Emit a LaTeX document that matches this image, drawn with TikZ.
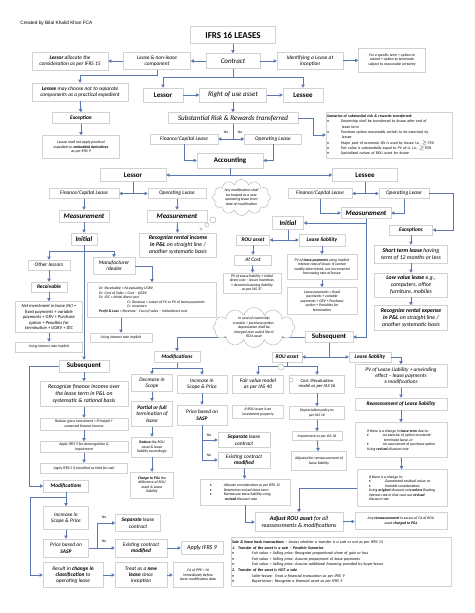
\documentclass[tikz,border=0pt]{standalone}
\usepackage{fontspec}
\setmainfont{Carlito}
\newfontfamily\creditfont{Liberation Sans}
\usetikzlibrary{arrows.meta,shapes.symbols}
\definecolor{lnblue}{HTML}{5B79AE}
\newcommand{\fsA}{\fontsize{7}{8.2}\selectfont}
\newcommand{\fsB}{\fontsize{5.4}{6.3}\selectfont}
\newcommand{\fsC}{\fontsize{4.6}{5.4}\selectfont}
\newcommand{\fsD}{\fontsize{3.8}{4.5}\selectfont}
\tikzset{every picture/.style={line width=0.75pt},
  bx/.style={draw=gray!35, line width=0.4pt, fill=white, inner sep=1pt, align=center, font=\itshape\fsB},
  bigtxt/.style={font=\itshape\fontsize{5.8}{6.8}\selectfont},
  hd/.style={font=\upshape\bfseries\fsA},
  hdi/.style={font=\itshape\bfseries\fsA},
  sm/.style={font=\itshape\fsD},
  lk/.style={draw=lnblue, line width=0.9pt, -{Triangle[length=3.2pt,width=3.4pt]}},
  ln/.style={draw=lnblue, line width=0.9pt},
  lbl/.style={font=\itshape\fsD, inner sep=0.5pt},
  cld/.style={cloud, cloud puffs=12, cloud ignores aspect, draw=gray!55, line width=0.5pt, fill=white, inner sep=0pt},
  bub/.style={draw=gray!55, line width=0.5pt, fill=white}
}

\begin{document}
\begin{tikzpicture}[x=1pt,y=1pt,yscale=-1,xscale=1]
\fill[white] (0,0) rectangle (474,613);
\path[use as bounding box] (0,0) rectangle (474,613);

% Heading
\node[anchor=west, inner sep=0pt, font=\creditfont\fontsize{4.8}{5.5}\selectfont] (credit) at (20,23) {Created by Bilal Khalid Khan FCA};
\node[bx, font=\upshape\bfseries\fontsize{9}{10}\selectfont, minimum width=85pt, minimum height=17pt] (title) at (233,35) {IFRS 16 LEASES};

% Contract row
\node[bx, font=\itshape\fsA, minimum width=54pt, minimum height=15pt] (contract) at (233,61) {Contract};
\node[bx, minimum width=67pt, minimum height=17pt] (lnl) at (157,61) {Lease \& non-lease\\component};
\node[bx, minimum width=76pt, minimum height=18pt] (lalloc) at (70,61) {\textbf{Lessor} allocate the\\consideration as per IFRS 15};
\node[bx, minimum width=66pt, minimum height=17pt] (ident) at (310,61) {Identifying a Lease at\\inception};
\node[bx, sm, minimum width=67pt, minimum height=24pt] (term) at (392,60) {For a specific term + option to\\extend + option to terminate\\subject to reasonable certainty};
\node[bx, minimum width=96pt, minimum height=18pt] (lchoose) at (80,92) {\textbf{Lessee} may choose not to separate\\components as a practical expedient};
\node[bx, minimum width=57pt, minimum height=11pt] (exc) at (81,118) {\textbf{Exception}};
\node[bx, sm, minimum width=77pt, minimum height=23pt] (embed) at (81,147) {Lessee shall not apply practical\\expedient to \textbf{embedded derivatives}\\as per IFRS 9};

% Lessor / ROU / Lessee row
\node[bx, hd, minimum width=40pt, minimum height=14pt] (lessorA) at (163,95) {Lessor};
\node[bx, font=\itshape\fsA, minimum width=67pt, minimum height=14pt] (rou) at (233,95) {Right of use asset};
\node[bx, hd, minimum width=40pt, minimum height=14pt] (lesseeA) at (303,95) {Lessee};
\node[bx, font=\itshape\fsA, minimum width=130pt, minimum height=11pt] (risk) at (233,118) {Substantial Risk \& Rewards transferred};
\node[bx, minimum width=68pt, minimum height=10pt] (finA) at (184,139) {Finance/Capital Lease};
\node[bx, minimum width=57pt, minimum height=10pt] (opA) at (273,139) {Operating Lease};
\node[lbl] (yesA) at (226,132) {Yes};
\node[lbl] (noA) at (240,132) {No};
\node[bx, font=\itshape\fontsize{3.9}{5.3}\selectfont, align=left, text width=124pt, minimum height=46pt] (scen) at (389,135) {\textbf{Scenarios of substantial risk \& rewards transferred:}\\
\textbullet\hspace{12pt}Ownership shall be transferred to lessee after end of\\
\hspace{15pt}lease term\\
\textbullet\hspace{12pt}Purchase option reasonably certain to be exercised by\\
\hspace{15pt}lessee\\
\textbullet\hspace{12pt}Major part of economic life is used by lessee i.e., $\geq$75\%\\
\textbullet\hspace{12pt}Fair value is substantially equal to PV of LL i.e., $\geq$90\%\\
\textbullet\hspace{12pt}Specialized nature of ROU asset for lessee};

% Accounting
\node[bx, hd, minimum width=66pt, minimum height=15pt] (acc) at (230,160.5) {Accounting};
\node[bx, hd, minimum width=66pt, minimum height=13pt] (lessorB) at (133,175) {Lessor};
\node[bx, hd, minimum width=65pt, minimum height=13pt] (lesseeB) at (365,175) {Lessee};
\node[bx, minimum width=70pt, minimum height=10pt] (finL) at (84,193.5) {Finance/Capital Lease};
\node[bx, minimum width=58pt, minimum height=10pt] (opL) at (177,193.5) {Operating Lease};
\node[bx, minimum width=64pt, minimum height=10pt] (finE) at (320,193.5) {Finance/Capital Lease};
\node[bx, minimum width=50pt, minimum height=10pt] (opE) at (404,193.5) {Operating Lease};

% Lessor, finance lease, initial
\node[bx, hdi, minimum width=50pt, minimum height=12pt] (measL) at (84,216) {Measurement};
\node[bx, hdi, minimum width=26pt, minimum height=12pt] (initL) at (84,239) {Initial};
\node[bx, minimum width=42pt, minimum height=10pt] (others) at (49,265) {Other lessors};
\node[bx, minimum width=42pt, minimum height=17pt] (manu) at (114,266) {Manufacturer\\/dealer};
\node[bx, font=\itshape\bfseries\fsB, minimum width=36pt, minimum height=10pt] (recv) at (49,287) {Receivable};
\node[bx, font=\itshape\fsC, minimum width=67pt, minimum height=31pt] (ni) at (49,317) {Net investment in lease (NI) =\\fixed payments + variable\\payments + GRV + Purchase\\option + Penalties for\\termination + UGRV + IDC};
\node[bx, sm, minimum width=67pt, minimum height=10pt] (irr1) at (49,347) {Using interest rate implicit};
\node[bx, sm, align=left, minimum width=129pt, minimum height=35pt] (journal) at (152,300) {Dr. Receivable = NI excluding UGRV\\Dr. Cost of Sales = Cost -- UGRV\\Dr. IDC = Initial direct cost\\\hspace{28pt}Cr. Revenue = Lower of FV or PV of lease payments\\\hspace{28pt}Cr. Inventory\\\textbf{Profit \& Loss} = Revenue -- Cost of sales -- Initial direct cost};
\node[bx, sm, minimum width=62pt, minimum height=9pt] (irr2) at (121,337.5) {Using interest rate implicit};

% Lessor, operating lease
\node[bx, hdi, minimum width=60pt, minimum height=12pt] (measO) at (177,216) {Measurement};
\node[bx, bigtxt, minimum width=77pt, minimum height=24pt] (rental) at (178,245) {\textbf{Recognize rental income}\\\textbf{in P\&L} on straight line /\\another systematic basis};

% Lessee, initial
\node[bx, hdi, minimum width=50pt, minimum height=11pt] (measE) at (366,213) {Measurement};
\node[bx, hdi, minimum width=31pt, minimum height=13pt] (initE) at (288,223) {Initial};
\node[bx, font=\itshape\bfseries\fsB, minimum width=33pt, minimum height=10pt] (rouI) at (253,240) {ROU asset};
\node[bx, font=\itshape\bfseries\fsB, minimum width=46pt, minimum height=12pt] (llI) at (322,240) {Lease liability};
\node[bx, minimum width=37pt, minimum height=10pt] (atcost) at (253,260) {At Cost};
\node[bx, sm, minimum width=58pt, minimum height=20pt] (pvrou) at (252,283) {PV of Lease liability + initial\\direct cost -- lessor incentives\\+ decommissioning liability\\as per IAS 37};
\node[bx, sm, minimum width=70pt, minimum height=25pt] (pvll) at (322,267) {PV of \textbf{lease payments} using implicit\\interest rate of lessor. If cannot\\readily determined, use incremental\\borrowing rate of lessee};
\node[bx, sm, minimum width=70pt, minimum height=27pt] (lpay) at (322,301) {Lease payments = fixed\\payments + variable\\payments + GRV + Purchase\\option + Penalties for\\termination};

% Lessee, exceptions
\node[bx, font=\itshape\bfseries\fsB, minimum width=43pt, minimum height=10pt] (exceptE) at (411,230) {Exceptions};
\node[bx, bigtxt, minimum width=73pt, minimum height=18pt] (shortT) at (411,254) {\textbf{Short term lease} having\\term of 12 months or less};
\node[bx, bigtxt, minimum width=73pt, minimum height=24pt] (lowV) at (411,285) {\textbf{Low value lease} e.g.,\\computers, office\\furniture, mobiles};
\node[bx, bigtxt, minimum width=73pt, minimum height=25pt] (rentExp) at (411,318) {\textbf{Recognize rental expense}\\\textbf{in P\&L} on straight line /\\another systematic basis};

% Subsequent
\node[bx, hd, minimum width=50pt, minimum height=12pt] (subL) at (84,366) {Subsequent};
\node[bx, hd, minimum width=48pt, minimum height=11pt] (subE) at (329,337) {Subsequent};

% Lessee, modifications
\node[bx, font=\itshape\bfseries\fsB, minimum width=46pt, minimum height=11pt] (modE) at (177,357) {Modifications};
\node[bx, minimum width=41pt, minimum height=17pt] (decr) at (152,383) {Decrease in\\Scope};
\node[bx, minimum width=41pt, minimum height=25pt] (partial) at (152,414) {\textbf{Partial or full}\\termination of\\lease};
\node[bx, sm, minimum width=41pt, minimum height=20pt] (reduce) at (152,447) {\textbf{Reduce} the ROU\\asset \& lease\\liability accordingly};
\node[bx, sm, minimum width=43pt, minimum height=26pt] (charge) at (152,485) {\textbf{Charge to P\&L} the\\difference of ROU\\asset \& Lease\\liability};
\node[bx, minimum width=50pt, minimum height=18pt] (incE) at (202,384) {Increase in\\Scope \& Price};
\node[bx, minimum width=50pt, minimum height=20pt] (sasE) at (202,415) {Price based on\\\textbf{SASP}};
\node[bx, minimum width=52pt, minimum height=15pt] (sepE) at (244,440) {\textbf{Separate} lease\\contract};
\node[bx, minimum width=52pt, minimum height=16pt] (existE) at (244,460) {Existing contract\\\textbf{modified}};
\node[lbl] (yesE) at (209,435) {Yes};
\node[lbl] (noE) at (209,455) {No};
\node[bx, sm, align=left, minimum width=90pt, minimum height=26pt] (bullets) at (245,492) {\textbullet\hspace{12pt}Allocate consideration as per IFRS 15\\\textbullet\hspace{12pt}Determine revised lease term\\\textbullet\hspace{12pt}Remeasure lease liability using\\\hspace{15pt}\textbf{revised} discount rate};

% Lessee, ROU asset
\node[bx, font=\itshape\bfseries\fsB, minimum width=30pt, minimum height=10pt] (rou2) at (287,357) {ROU asset};
\node[bx, minimum width=51pt, minimum height=18pt] (fv) at (258,384) {Fair value model\\as per IAS 40};
\node[bx, sm, minimum width=51pt, minimum height=13pt] (ivp) at (258,412) {If ROU asset is an\\investment property};
\node[bx, font=\itshape\fsC, minimum width=55pt, minimum height=18pt] (cost) at (317,384) {Cost /Revaluation\\model as per IAS 16};
\node[bx, sm, minimum width=55pt, minimum height=13pt] (dep) at (317,413) {Depreciation policy as\\per IAS 16};
\node[bx, sm, minimum width=50pt, minimum height=9pt] (imp) at (317,436) {Impairment as per IAS 36};
\node[bx, sm, minimum width=55pt, minimum height=19pt] (adjrem) at (319,461) {Adjusted for remeasurement of\\lease liability};

% Lessee, lease liability
\node[bx, font=\itshape\bfseries\fsB, minimum width=42pt, minimum height=10pt] (llS) at (370,357) {Lease liability};
\node[bx, minimum width=92pt, minimum height=23pt] (pvS) at (401,376) {PV of Lease Liability + unwinding\\effect -- lease payments\\± modifications};
\node[bx, font=\itshape\bfseries\fsB, minimum width=92pt, minimum height=12pt] (reass) at (401,404) {Reassessment of Lease liability};
\node[bx, sm, align=left, minimum width=92pt, minimum height=35pt] (chg1) at (401,440) {If there is a change in \textbf{lease term} due to:\\\textbullet\hspace{14pt}An exercise of option to extend/\\\hspace{17pt}terminate lease, or\\\textbullet\hspace{14pt}An assessment of purchase option\\Using \textbf{revised} discount rate};
\node[bx, sm, align=left, minimum width=90pt, minimum height=37pt] (chg2) at (402,488) {If there is a change in:\\\textbullet\hspace{14pt}Guaranteed residual value; or\\\textbullet\hspace{14pt}Variable consideration;\\Using \textbf{original} discount rate \textbf{unless} floating\\interest rate in that case use \textbf{revised}\\discount rate};
\node[bx, sm, minimum width=92pt, minimum height=17pt] (excess) at (401,521) {Any \textbf{remeasurement} in excess of CA of ROU\\asset \textbf{charged to P\&L}};
\node[bx, font=\itshape\fontsize{6}{7}\selectfont, minimum width=88pt, minimum height=19pt] (adjrou) at (299,522) {\textbf{Adjust ROU asset} for all\\reassessments \& modifications};
\node[bx, font=\itshape\fontsize{4}{5.6}\selectfont, align=left, text width=218pt, minimum height=49pt] (slb) at (341,562) {\textbf{Sale \& lease back transactions} -- Assess whether a transfer is a sale or not as per IFRS 15\\
\textbf{1.\hspace{3pt}Transfer of the asset is a sale -- Possible Scenarios}\\
\textbullet\hspace{18pt}Fair value = Selling price; Recognize proportional share of gain or loss\\
\textbullet\hspace{18pt}Fair value > Selling price; Assume prepayment of lease payments\\
\textbullet\hspace{18pt}Fair value < Selling price; Assume additional financing provided by buyer-lessor\\
\textbf{2.\hspace{3pt}Transfer of the asset is NOT a sale}\\
\textbullet\hspace{18pt}Seller-lessee: Treat a financial transaction as per IFRS 9\\
\textbullet\hspace{18pt}Buyer-lessor: Recognize a financial asset as per IFRS 9};

% Lessor, subsequent
\node[bx, bigtxt, minimum width=88pt, minimum height=25pt] (recfin) at (84,394) {Recognize finance income over\\the lease term in P\&L on\\systematic \& rational basis};
\node[bx, sm, minimum width=88pt, minimum height=12pt] (redgross) at (84,424) {Reduce gross investment = Principal +\\unearned finance income};
\node[bx, sm, minimum width=88pt, minimum height=11pt] (app9) at (84,447) {Apply IFRS 9 for derecognition \&\\impairment};
\node[bx, sm, minimum width=87pt, minimum height=10pt] (app5) at (84,468) {Apply IFRS 5 if classified as Held for sale};
\node[bx, font=\itshape\bfseries\fsB, minimum width=45pt, minimum height=12pt] (modL) at (66,486) {Modifications};
\node[bx, minimum width=45pt, minimum height=23pt] (incL) at (66,518) {Increase in\\Scope \& Price};
\node[bx, minimum width=45pt, minimum height=18pt] (sasL) at (66,548) {Price based on\\\textbf{SASP}};
\node[bx, minimum width=45pt, minimum height=17pt] (sepL) at (138,523) {\textbf{Separate} lease\\contract};
\node[bx, minimum width=52pt, minimum height=18pt] (existL) at (141,548) {Existing contract\\\textbf{modified}};
\node[lbl] (yesL) at (104,517) {Yes};
\node[lbl] (noL) at (104,541) {No};
\node[bx, font=\itshape\fontsize{6}{7}\selectfont, minimum width=42pt, minimum height=13pt] (app9b) at (202,548) {Apply IFRS 9};
\node[bx, minimum width=60pt, minimum height=25pt] (result) at (73,575) {Result in \textbf{change in}\\\textbf{classification} to\\operating lease};
\node[bx, minimum width=52pt, minimum height=25pt] (treat) at (141,575) {Treat as a \textbf{new}\\\textbf{lease} since\\inception};
\node[bx, sm, minimum width=50pt, minimum height=25pt] (ca) at (198,575) {CA of PPE = NI\\immediately before\\lease modification date};

% Connectors, top
\draw[lk] (title) -- (contract);
\draw[lk] (contract) -- (lnl);
\draw[lk] (contract) -- (ident);
\draw[lk] (lnl) -- (lalloc);
\draw[lk] (ident) -- (term);
\draw[lk] (lnl.south) -- ++(0,6) -| (lchoose.north);
\draw[lk] (lchoose) -- (exc);
\draw[lk] (exc) -- (embed);
\draw[ln] (contract.south) -- ++(0,9) coordinate (cs);
\draw[lk] (cs) -| (lessorA);
\draw[lk] (cs) -| (lesseeA);
\draw[lk] (lessorA) -- (rou);
\draw[lk] (rou) -- (lesseeA);
\draw[lk] (rou) -- (risk);
\draw[lk] (risk.south) |- (finA.east);
\draw[lk] (risk.south) |- (opA.west);
\draw[lk] (risk.east) -- ++(15,0) |- (scen.west);
\draw[lk] (finA.south) |- (acc.west);
\draw[lk] (opA.south) |- (acc.east);

% Connectors, accounting
\draw[ln] (acc.south) -- (acc.south |- lessorB.east) coordinate (as);
\draw[lk] (as) -- (lessorB.east);
\draw[lk] (as) -- (lesseeB.west);
\draw[ln] (lessorB.south) -- (lessorB.south |- finL.east) coordinate (lbs);
\draw[lk] (lbs) -- (finL.east);
\draw[lk] (lbs) -- (opL.west);
\draw[ln] (lesseeB.south) -- (lesseeB.south |- finE.east) coordinate (lss);
\draw[lk] (lss) -- (finE.east);
\draw[lk] (lss) -- (opE.west);

% Connectors, lessor
\draw[lk] (finL) -- (measL);
\draw[lk] (measL) -- (initL);
\draw[lk] (initL) -- (subL);
\draw[ln] (initL.south) -- ++(0,6) coordinate (ils);
\draw[lk] (ils) -| (others);
\draw[lk] (ils) -| (manu);
\draw[lk] (others) -- (recv);
\draw[lk] (recv) -- (ni);
\draw[lk] (ni) -- (irr1);
\draw[lk] (manu.east) -| (journal.north);
\draw[lk] (journal.south -| irr2.north) -- (irr2.north);
\draw[lk] (opL) -- (measO);
\draw[lk] (measO) -- (rental);
\draw[lk] (subL) -- (recfin);
\draw[lk] (recfin) -- (redgross);
\draw[lk] (redgross) -- (app9);
\draw[lk] (app9) -- (app5);
\draw[lk] (subL.west) -- ++(-29,0) |- (modL.west);
\draw[lk] (modL) -- (incL);
\draw[ln] (modL.south) -- ++(0,5) coordinate (mls);
\draw[lk] (mls) -- ++(-36,0) |- (result.west);
\draw[lk] (incL) -- (sasL);
\draw[ln] (sasL.east) -- ++(9,0) coordinate (sle);
\draw[lk] (sle) |- (sepL.west);
\draw[lk] (sle) -- (existL.west);
\draw[lk] (existL) -- (app9b);
\draw[lk] (result) -- (treat);
\draw[lk] (treat) -- (ca);

% Connectors, lessee
\draw[lk] (finE.south) |- (measE.west);
\draw[lk] (opE.south) |- (measE.east);
\draw[lk] (opE.east) -- ++(24,0) |- (exceptE.east);
\draw[lk] (exceptE) -- (shortT);
\draw[lk] (shortT) -- (lowV);
\draw[lk] (lowV) -- (rentExp);
\draw[lk] (measE.south) |- (initE.east);
\draw[lk] (measE.south) |- (subE.east);
\draw[ln] (initE.south) -- (initE.south |- rouI.east) coordinate (ies);
\draw[lk] (ies) -- (rouI.east);
\draw[lk] (ies) -- (llI.west);
\draw[lk] (rouI) -- (atcost);
\draw[lk] (atcost) -- (pvrou);
\draw[lk] (llI) -- (pvll);
\draw[lk] (pvll) -- (lpay);
\draw[lk] (subE.west) -| (modE.north);
\draw[ln] (subE.south) -- (subE.south |- rou2.east) coordinate (ses);
\draw[lk] (ses) -- (rou2.east);
\draw[lk] (ses) -- (llS.west);
\draw[ln] (modE.south) -- ++(0,6) coordinate (mes);
\draw[lk] (mes) -| (decr);
\draw[lk] (mes) -| (incE);
\draw[lk] (decr) -- (partial);
\draw[lk] (partial) -- (reduce);
\draw[lk] (reduce) -- (charge);
\draw[lk] (incE) -- (sasE);
\draw[lk] (sasE.south) |- (sepE.west);
\draw[lk] (sasE.south) |- (existE.west);
\draw[lk] (existE) -- (bullets);
\draw[lk] (bullets.south) |- (adjrou.west);
\draw[ln] (rou2.south) -- ++(0,4) coordinate (r2s);
\draw[lk] (r2s) -| (fv);
\draw[lk] (r2s) -| (cost);
\draw[lk] (cost) -- (dep);
\draw[lk] (dep) -- (imp);
\draw[lk] (imp) -- (adjrem);
\draw[lk] (llS.east) -| (pvS.north);
\draw[lk] (pvS) -- (reass);
\draw[lk] (reass) -- (chg1);
\draw[lk] (chg1) -- (chg2);
\draw[lk] (chg2.west) -| (adjrou.north);
\draw[lk] (adjrou) -- (excess);

% Clouds
\node[cld, minimum width=58pt, minimum height=36pt] (cloud1) at (241.5,197.5) {};
\node[sm, align=center, inner sep=0pt] (cloud1txt) at (cloud1) {Any modification shall\\be treated as a new\\operating lease from\\date of modification};
\draw[bub] (213,220) circle (3pt);
\draw[bub] (207,225) circle (2pt);
\draw[bub] (201,229) circle (1.3pt);
\node[cld, minimum width=82pt, minimum height=40pt] (cloud2) at (254,327.5) {};
\node[sm, align=center, inner sep=0pt] (cloud2txt) at (cloud2) {In case of ownership\\transfer / purchase option,\\depreciation shall be\\charged over useful life of\\ROU asset};
\draw[bub] (281,367) circle (3pt);
\draw[bub] (291,380) circle (2pt);

\end{tikzpicture}
\end{document}
